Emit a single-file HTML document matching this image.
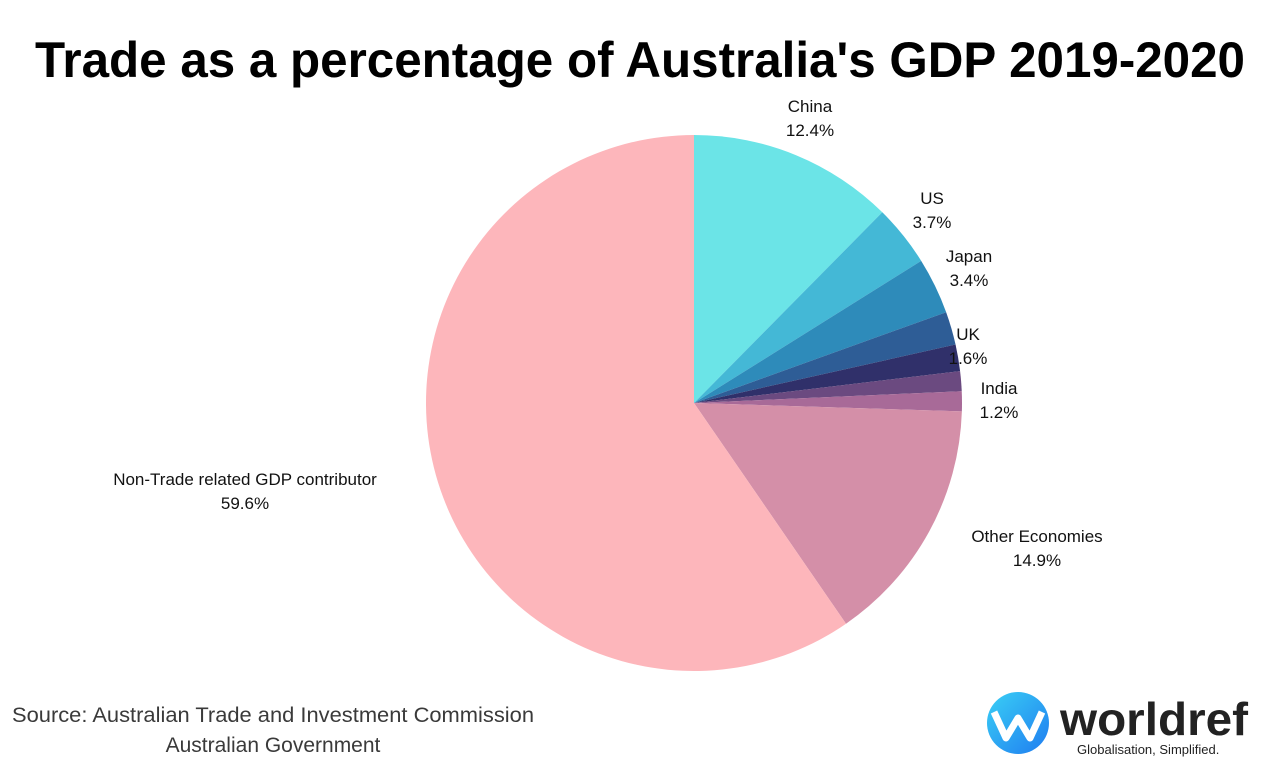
<!DOCTYPE html>
<html><head><meta charset="utf-8"><style>
body{margin:0;background:#fff;width:1280px;height:768px;overflow:hidden;font-family:"Liberation Sans",sans-serif}
</style></head><body>
<svg id="chart" width="1280" height="768" xmlns="http://www.w3.org/2000/svg">
<text x="35" y="77" font-size="50" font-weight="bold" textLength="1210" lengthAdjust="spacingAndGlyphs" font-family="Liberation Sans, sans-serif">Trade as a percentage of Australia's GDP 2019-2020</text>
<g id="slices"></g>
<g id="labels" font-size="17" fill="#111" text-anchor="middle"></g>
<text x="273" y="722" font-size="21" fill="#3a3a3a" text-anchor="middle" textLength="522" lengthAdjust="spacingAndGlyphs">Source: Australian Trade and Investment Commission</text>
<text x="273" y="752" font-size="21" fill="#3a3a3a" text-anchor="middle">Australian Government</text>
<g>
<defs><linearGradient id="lg" x1="0" y1="0" x2="1" y2="1"><stop offset="0" stop-color="#3ad0f5"/><stop offset="1" stop-color="#1f7cf0"/></linearGradient></defs>
<circle cx="1018" cy="723" r="31" fill="url(#lg)"/>
<polyline points="994,712 1006,738 1018,718 1030,738 1042,712" fill="none" stroke="#fff" stroke-width="7" stroke-linejoin="round"/>
<text x="1060" y="735" font-size="46" font-weight="bold" fill="#222" textLength="188" lengthAdjust="spacingAndGlyphs">worldref</text>
<text x="1077" y="754" font-size="13" fill="#222">Globalisation, Simplified.</text>
</g>
</svg>
<script>
const categories=["China","US","Japan","Other Asia","UK","India","Other Europe","Other Economies","Non-Trade related GDP contributor"];
const values=[12.4,3.7,3.4,2.0,1.6,1.2,1.2,14.9,59.6];
const printed=["12.4%","3.7%","3.4%","","1.6%","1.2%","","14.9%","59.6%"];
const showLabel=[true,true,true,false,true,true,false,true,true];
const colors=["#6be4e7","#44b8d6","#2e8bba","#2e5d96","#30306a","#6b4a80","#a86a98","#d48fa8","#fdb6bb"];
const labelPos=[[810,112],[932,204],[969,262],[0,0],[968,340],[999,394],[0,0],[1037,542],[245,485]];
const cx=694,cy=403,R=268;
const total=values.reduce((a,b)=>a+b,0);
function pt(frac,r){const a=frac*2*Math.PI;return [cx+r*Math.sin(a),cy-r*Math.cos(a)];}
const ns="http://www.w3.org/2000/svg";
const gs=document.getElementById('slices'),gl=document.getElementById('labels');
let cum=0;
values.forEach((v,i)=>{
  const s=cum/total,e=(cum+v)/total;cum+=v;
  const p0=pt(s,R),p1=pt(e,R);
  const p=document.createElementNS(ns,'path');
  p.setAttribute('d',`M${cx},${cy}L${p0[0]},${p0[1]}A${R},${R} 0 ${e-s>0.5?1:0} 1 ${p1[0]},${p1[1]}Z`);
  p.setAttribute('fill',colors[i]);
  
  
  gs.appendChild(p);
  if(showLabel[i]){
    const t=document.createElementNS(ns,'text');
    t.setAttribute('x',labelPos[i][0]);t.setAttribute('y',labelPos[i][1]);
    
    
    const a=document.createElementNS(ns,'tspan');a.setAttribute('x',labelPos[i][0]);a.textContent=categories[i];
    const b=document.createElementNS(ns,'tspan');b.setAttribute('x',labelPos[i][0]);b.setAttribute('dy','24');b.textContent=printed[i];
    t.appendChild(a);t.appendChild(b);gl.appendChild(t);
  }
});
</script>
</body></html>
